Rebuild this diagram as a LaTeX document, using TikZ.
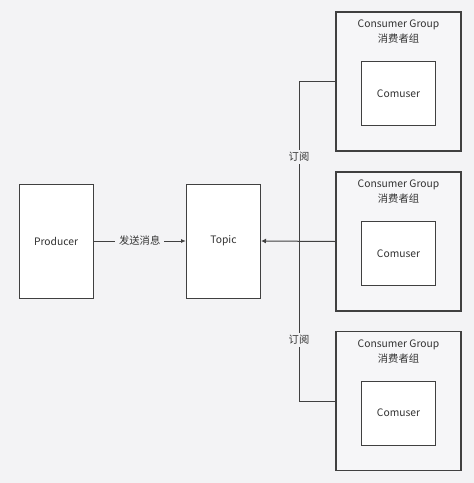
\documentclass[tikz,border=0pt]{standalone}
\usepackage{fontspec}
\setmainfont{Noto Sans CJK SC}
\usetikzlibrary{arrows.meta,positioning}

\definecolor{bggray}{HTML}{F3F3F5}
\definecolor{groupgray}{HTML}{F6F6F8}
\definecolor{linegray}{HTML}{404040}
\definecolor{textgray}{HTML}{333333}

\begin{document}
\begin{tikzpicture}[x=1pt,y=-1pt,font=\fontsize{10.3}{12}\selectfont,text=textgray]
		% Styles for the boxes and the connectors
		\tikzset{
			box/.style={draw=linegray, line width=1pt, fill=white, minimum width=74pt, minimum height=114pt, inner sep=0pt},
			groupbox/.style={draw=linegray, line width=1.1pt, fill=groupgray, minimum width=125pt, minimum height=139pt, inner sep=0pt},
			comuserbox/.style={draw=linegray, line width=1pt, fill=white, minimum width=74pt, minimum height=64pt, inner sep=0pt},
			link/.style={draw=linegray, line width=1pt},
			linklabel/.style={fill=bggray, inner xsep=4pt, inner ysep=2pt}
		}
		
		% Background
		\fill[bggray] (0,0) rectangle (474,483);
		\useasboundingbox (0,0) rectangle (474,483);
		
		% Producer and Topic
		\node[box] (producer) at (56,241) {Producer};
		\node[box] (topic) at (223.5,241) {Topic};
		
		% Consumer groups
		\foreach \name/\y in {groupone/81.5, grouptwo/241.5, groupthree/401} {
			\node[groupbox] (\name) at (398.5,\y) {};
			\node[anchor=north] (\name title) at ([yshift=-5pt]\name.north) {Consumer Group};
			\node[below=-3pt of \name title] (\name sub) {消费者组};
			\node[comuserbox] (\name comuser) at ([yshift=-12pt]\name.center) {Comuser};
		}
		
		% Send arrow
		\draw[link, -{Latex[length=5pt,width=4pt]}] (producer.east) -- node[linklabel] {发送消息} (topic.west);
		
		% Subscribe lines
		\coordinate (trunk) at (299,241);
		\draw[link] (groupone.west) -| (trunk);
		\draw[link] (groupthree.west) -| (trunk);
		\draw[link, -{Latex[length=5pt,width=5pt]}] (grouptwo.west) -- (topic.east);
		\node[linklabel] (subone) at (299,157) {订阅};
		\node[linklabel] (subtwo) at (299,340) {订阅};
	\end{tikzpicture}
\end{document}
